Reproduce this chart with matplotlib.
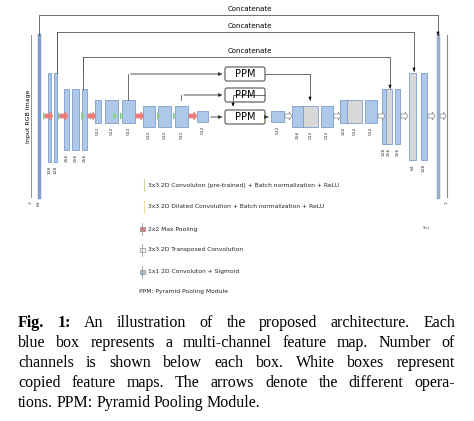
import matplotlib
matplotlib.use("Agg")
import matplotlib.pyplot as plt
from matplotlib.patches import Rectangle, FancyBboxPatch, Polygon

# ---- data ----
enc_channels = ["64", "128", "128", "256", "256", "256", "512", "512", "512", "512", "512", "512", "512"]
dec_channels = ["512", "256", "512", "512", "256", "512", "512", "128", "256", "256", "64", "128", "1"]
concat_labels = ["Concatenate", "Concatenate", "Concatenate"]
ppm_labels = ["PPM", "PPM", "PPM"]
legend_labels = ["3x3 2D Convoluton (pre-trained) + Batch normalization + ReLU",
                 "3x3 2D Dilated Convolution + Batch normalization + ReLU",
                 "2x2 Max Pooling",
                 "3x3 2D Transposed Convolution",
                 "1x1 2D Convoluton + Sigmoid",
                 "PPM: Pyramid Pooling Module"]
caption_lines = [
    "Fig. 1: An illustration of the proposed architecture. Each",
    "blue box represents a multi-channel feature map. Number of",
    "channels is shown below each box. White boxes represent",
    "copied feature maps. The arrows denote the different opera-",
    "tions. PPM: Pyramid Pooling Module.",
]

fig = plt.figure(figsize=(4.74, 4.21), dpi=100)
ax = fig.add_axes([0, 0, 1, 1])
ax.set_xlim(0, 474); ax.set_ylim(421, 0); ax.axis("off")

BLUE, EDGE, GREY = "#aec8ea", "#7d9dcc", "#d8d8d8"
LINE = "#555555"

def box(x0, x1, y0, y1, c=BLUE):
    ax.add_patch(Rectangle((x0, y0), x1 - x0, y1 - y0, fc=c, ec=EDGE, lw=0.6))

def lab(x, y, t):
    ax.text(x, y, t, rotation=90, fontsize=3.2, ha="center", va="top", color="#333")

def arrow(x, y, c, w=8):
    ax.add_patch(Polygon([(x, y-2), (x+w*0.6, y-2), (x+w*0.6, y-4), (x+w, y), (x+w*0.6, y+4),
                          (x+w*0.6, y+2), (x, y+2)], fc=c, ec="#888" if c == "white" else c, lw=0.5))

def tri(x, y):
    ax.add_patch(Polygon([(x, y-4), (x+4, y), (x, y+4)], fc="#8fd08f", ec="none"))

cy = 116
ax.plot([39, 39], [35, 197], color=EDGE, lw=2.5)
ax.text(29, 116, "Input RGB Image", rotation=90, fontsize=4.5, ha="center", va="center")
ax.plot([31, 31], [35, 197], color="#666", lw=0.5)
lab(31, 201, "3"); lab(39, 201, enc_channels[0])
enc = [(48, 51, 73, 162), (54, 57, 73, 162),
       (64, 69, 89, 150), (72, 79, 89, 150), (82, 87, 89, 150),
       (95, 101, 100, 123), (105, 118, 100, 123), (122, 135, 100, 123),
       (143, 155, 106, 127), (158, 171, 106, 127), (175, 188, 106, 127),
       (197, 208, 111, 122)]
for i, (a, b, t, bt) in enumerate(enc):
    box(a, b, t, bt)
    lab((a+b)/2, bt+4, enc_channels[i+1] if i+1 < len(enc_channels) else "512")
for x in [43, 58, 81, 90, 113, 120, 157, 173]:
    tri(x, cy)
for x in [45, 60, 88, 136, 189]:
    arrow(x, cy, "#ec7b7b")

dec = [(271, 284, 111, 122, [BLUE]),
       (292, 303, 106, 127, [BLUE]), (303, 318, 106, 127, [GREY]), (321, 333, 106, 127, [BLUE]),
       (340, 347, 100, 123, [BLUE]), (347, 362, 100, 123, [GREY]), (365, 377, 100, 123, [BLUE]),
       (382, 386, 89, 144, [BLUE]), (386, 392, 89, 144, [GREY]), (395, 400, 89, 144, [BLUE]),
       (409, 416, 73, 160, [GREY]), (421, 427, 73, 160, [BLUE])]
for i, (a, b, t, bt, c) in enumerate(dec):
    box(a, b, t, bt, c[0])
    lab((a+b)/2, bt+4, dec_channels[i])
for x in [285, 334, 378, 401, 428]:
    arrow(x, cy, "white", 7)
ax.plot([438, 438], [35, 197], color="#9aaccd", lw=2.5)
ax.plot([447, 447], [35, 197], color="#888", lw=0.8)
arrow(440, cy, "white", 6)
lab(447, 201, dec_channels[-1])

for (x0, x1, y, ye), t in zip([(39, 438, 15, 35), (57, 414, 32, 71), (83, 390, 57, 88)], concat_labels):
    ax.plot([x0, x0, x1, x1], [73 if x0 != 39 else 35, y, y, ye], color=LINE, lw=0.6)
    ax.annotate("", xy=(x1, ye), xytext=(x1, ye-3), arrowprops=dict(arrowstyle="-|>", color="k", lw=0.5, mutation_scale=4))
    ax.text(250, y-3, t, fontsize=5, ha="center", va="bottom")
ax.plot([83, 83], [57, 89], color=LINE, lw=0.6)
ax.plot([57, 57], [32, 73], color=LINE, lw=0.6)

for (ys, src, dst), t in zip([(74, 128, 310), (95, 181, 233), (117, 208, None)], ppm_labels):
    ax.add_patch(FancyBboxPatch((225, ys-7), 40, 14, boxstyle="round,pad=0,rounding_size=2",
                                fc="white", ec="#555", lw=0.8))
    ax.text(245, ys, t, fontsize=7, ha="center", va="center")
    ax.plot([src, src], [100 if src < 200 else ys, ys], color=LINE, lw=0.6)
    ax.annotate("", xy=(225, ys), xytext=(src, ys), arrowprops=dict(arrowstyle="-|>", color="#333", lw=0.6, mutation_scale=5))
    if dst:
        ax.plot([265, dst, dst], [ys, ys, 100 if dst > 300 else 105], color=LINE, lw=0.6)
        ax.annotate("", xy=(dst, 100 if dst > 300 else 106), xytext=(dst, 96 if dst > 300 else 102),
                    arrowprops=dict(arrowstyle="-|>", color="k", lw=0.5, mutation_scale=4))
    else:
        ax.annotate("", xy=(271, ys), xytext=(265, ys), arrowprops=dict(arrowstyle="-|>", color="#333", lw=0.6, mutation_scale=5))

ly = [185, 207, 229, 250, 272, 291]
cols = ["#c8d8a0", "#f0e0a0", "#ec7b7b", "white", "#aec8ea"]
for i, (y, t) in enumerate(zip(ly, legend_labels)):
    if i < 2:
        ax.plot([144, 144], [y-6, y+6], color=cols[i], lw=0.8)
    elif i < 5:
        ax.add_patch(Rectangle((140, y-2), 5, 4, fc=cols[i], ec="#888", lw=0.5))
        ax.plot([142, 142], [y-6, y+6], color="#888", lw=0.5)
    ax.text(148 if i < 5 else 139, y, t, fontsize=4.3, va="center", color="#222")
ax.text(422, 228, "Text", fontsize=2.5, va="center", color="#555")

# caption, justified between x=18 and x=455
fig.canvas.draw()
r = fig.canvas.get_renderer()
inv = ax.transData.inverted()
L, R = 18, 455
for i, line in enumerate(caption_lines):
    y = 323 + i*20
    words = line.split(" ")
    texts = []
    for j, w in enumerate(words):
        bold = i == 0 and j < 2
        texts.append(ax.text(0, y, w, fontsize=11.5, family="Liberation Serif",
                             weight="bold" if bold else "normal", va="center", ha="left"))
    widths = []
    for t in texts:
        bb = t.get_window_extent(r)
        x0 = inv.transform((bb.x0, 0))[0]; x1 = inv.transform((bb.x1, 0))[0]
        widths.append(x1 - x0)
    last = i == len(caption_lines) - 1
    gap = 3.5 if last else (R - L - sum(widths)) / (len(words) - 1)
    x = L
    for t, w in zip(texts, widths):
        t.set_x(x); x += w + gap

fig.savefig("out.png", dpi=100)
